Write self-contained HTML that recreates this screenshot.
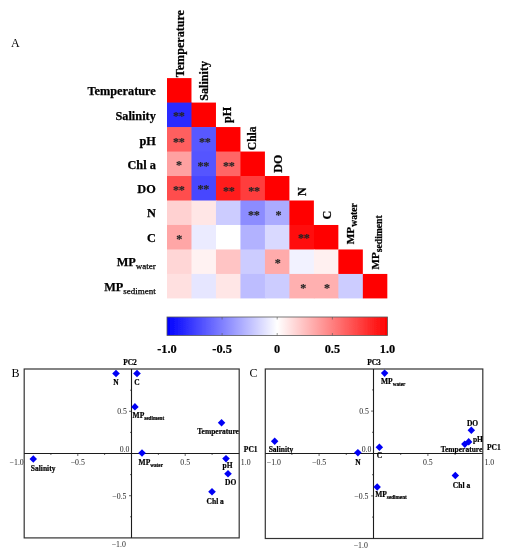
<!DOCTYPE html>
<html lang="en"><head><meta charset="utf-8"><title>Figure</title>
<style>html,body{margin:0;padding:0;background:#fff}svg{display:block}text{font-family:"Liberation Serif",serif;fill:#000}.b{font-weight:bold}.rl{font-size:12.3px;font-weight:bold;text-anchor:end;stroke:#000;stroke-width:0.25px}.cl{font-size:12.3px;font-weight:bold;stroke:#000;stroke-width:0.25px}.st{font-size:12.2px;font-weight:bold;text-anchor:middle;fill:#262626;letter-spacing:-0.4px;stroke:#262626;stroke-width:0.15px}.cb{font-size:12.3px;font-weight:bold;text-anchor:middle;stroke:#000;stroke-width:0.2px}.tk{font-size:7.8px;fill:#222}.pl{font-size:7.5px;font-weight:bold;stroke:#000;stroke-width:0.2px}.pn{font-size:20px}</style></head><body>
<svg width="506" height="550" viewBox="0 0 506 550">
<rect width="506" height="550" fill="#fff"/>
<defs><linearGradient id="g" x1="0" x2="1" y1="0" y2="0"><stop offset="0" stop-color="#0000ff"/><stop offset="0.5" stop-color="#ffffff"/><stop offset="1" stop-color="#ff0000"/></linearGradient></defs>
<filter id="bl" x="0" y="0" width="506" height="550" filterUnits="userSpaceOnUse"><feGaussianBlur stdDeviation="0.35"/></filter>
<g filter="url(#bl)">
<text x="11" y="47.3" style="font-size:12px">A</text>
<g>
<rect x="167.00" y="78.10" width="24.48" height="25.08" fill="#ff0000"/>
<rect x="167.00" y="102.58" width="25.08" height="25.08" fill="#2b2bff"/>
<rect x="191.48" y="102.58" width="24.48" height="25.08" fill="#ff0000"/>
<rect x="167.00" y="127.06" width="25.08" height="25.08" fill="#ff5e5e"/>
<rect x="191.48" y="127.06" width="25.08" height="25.08" fill="#5959ff"/>
<rect x="215.96" y="127.06" width="24.48" height="25.08" fill="#ff0000"/>
<rect x="167.00" y="151.54" width="25.08" height="25.08" fill="#ffa1a1"/>
<rect x="191.48" y="151.54" width="25.08" height="25.08" fill="#5454ff"/>
<rect x="215.96" y="151.54" width="25.08" height="25.08" fill="#ff6666"/>
<rect x="240.44" y="151.54" width="24.48" height="25.08" fill="#ff0000"/>
<rect x="167.00" y="176.02" width="25.08" height="25.08" fill="#ff4d4d"/>
<rect x="191.48" y="176.02" width="25.08" height="25.08" fill="#4747ff"/>
<rect x="215.96" y="176.02" width="25.08" height="25.08" fill="#ff1f1f"/>
<rect x="240.44" y="176.02" width="25.08" height="25.08" fill="#ff3d3d"/>
<rect x="264.92" y="176.02" width="24.48" height="25.08" fill="#ff0000"/>
<rect x="167.00" y="200.50" width="25.08" height="25.08" fill="#ffd1d1"/>
<rect x="191.48" y="200.50" width="25.08" height="25.08" fill="#ffe6e6"/>
<rect x="215.96" y="200.50" width="25.08" height="25.08" fill="#ccccff"/>
<rect x="240.44" y="200.50" width="25.08" height="25.08" fill="#8c8cff"/>
<rect x="264.92" y="200.50" width="25.08" height="25.08" fill="#ababff"/>
<rect x="289.40" y="200.50" width="24.48" height="25.08" fill="#ff0000"/>
<rect x="167.00" y="224.98" width="25.08" height="25.08" fill="#ffa6a6"/>
<rect x="191.48" y="224.98" width="25.08" height="25.08" fill="#ebebff"/>
<rect x="215.96" y="224.98" width="25.08" height="25.08" fill="#ffffff"/>
<rect x="240.44" y="224.98" width="25.08" height="25.08" fill="#b2b2ff"/>
<rect x="264.92" y="224.98" width="25.08" height="25.08" fill="#d9d9ff"/>
<rect x="289.40" y="224.98" width="25.08" height="25.08" fill="#ff0808"/>
<rect x="313.88" y="224.98" width="24.48" height="25.08" fill="#ff0000"/>
<rect x="167.00" y="249.46" width="25.08" height="25.08" fill="#ffd6d6"/>
<rect x="191.48" y="249.46" width="25.08" height="25.08" fill="#fff2f2"/>
<rect x="215.96" y="249.46" width="25.08" height="25.08" fill="#ffc4c4"/>
<rect x="240.44" y="249.46" width="25.08" height="25.08" fill="#ccccff"/>
<rect x="264.92" y="249.46" width="25.08" height="25.08" fill="#ffabab"/>
<rect x="289.40" y="249.46" width="25.08" height="25.08" fill="#f2f2ff"/>
<rect x="313.88" y="249.46" width="25.08" height="25.08" fill="#fff0f0"/>
<rect x="338.36" y="249.46" width="24.48" height="25.08" fill="#ff0000"/>
<rect x="167.00" y="273.94" width="25.08" height="24.48" fill="#ffe0e0"/>
<rect x="191.48" y="273.94" width="25.08" height="24.48" fill="#e6e6ff"/>
<rect x="215.96" y="273.94" width="25.08" height="24.48" fill="#ffe6e6"/>
<rect x="240.44" y="273.94" width="25.08" height="24.48" fill="#bdbdff"/>
<rect x="264.92" y="273.94" width="25.08" height="24.48" fill="#ccccff"/>
<rect x="289.40" y="273.94" width="25.08" height="24.48" fill="#ffb0b0"/>
<rect x="313.88" y="273.94" width="25.08" height="24.48" fill="#ffb0b0"/>
<rect x="338.36" y="273.94" width="25.08" height="24.48" fill="#ccccff"/>
<rect x="362.84" y="273.94" width="24.48" height="24.48" fill="#ff0000"/>
</g>
<text class="st" x="178.7" y="119.9">**</text>
<text class="st" x="178.8" y="146.3">**</text>
<text class="st" x="204.7" y="145.9">**</text>
<text class="st" x="178.8" y="169.0">*</text>
<text class="st" x="203.3" y="169.8">**</text>
<text class="st" x="228.8" y="170.0">**</text>
<text class="st" x="178.8" y="193.9">**</text>
<text class="st" x="203.3" y="192.7">**</text>
<text class="st" x="228.8" y="194.9">**</text>
<text class="st" x="253.9" y="194.5">**</text>
<text class="st" x="253.7" y="218.5">**</text>
<text class="st" x="278.4" y="218.5">*</text>
<text class="st" x="179.2" y="243.2">*</text>
<text class="st" x="303.7" y="241.9">**</text>
<text class="st" x="277.6" y="266.7">*</text>
<text class="st" x="303.0" y="292.0">*</text>
<text class="st" x="326.9" y="292.0">*</text>
<text class="rl" x="155.8" y="95.1">Temperature</text>
<text class="rl" x="155.8" y="119.6">Salinity</text>
<text class="rl" x="155.8" y="144.5">pH</text>
<text class="rl" x="155.8" y="168.6">Chl a</text>
<text class="rl" x="155.8" y="193.1">DO</text>
<text class="rl" x="155.8" y="216.9">N</text>
<text class="rl" x="155.8" y="242.0">C</text>
<text class="rl" x="155.8" y="266.2">MP<tspan dy="3" style="font-size:9px;font-weight:normal">water</tspan></text>
<text class="rl" x="155.8" y="290.7">MP<tspan dy="3" style="font-size:9px;font-weight:normal">sediment</tspan></text>
<text class="cl" style="font-size:12.1px" transform="translate(184.4,77.2) rotate(-90)">Temperature</text>
<text class="cl" style="font-size:12.1px" transform="translate(207.6,100.7) rotate(-90)">Salinity</text>
<text class="cl" style="font-size:12.1px" transform="translate(230.9,122.9) rotate(-90)">pH</text>
<text class="cl" style="font-size:11.6px" transform="translate(255.8,150.2) rotate(-90)">Chla</text>
<text class="cl" style="font-size:12.1px" transform="translate(281.6,172.8) rotate(-90)">DO</text>
<text class="cl" style="font-size:12.1px" transform="translate(305.6,196.0) rotate(-90)">N</text>
<text class="cl" style="font-size:12.1px" transform="translate(331.2,219.4) rotate(-90)">C</text>
<text class="cl" style="font-size:11.2px" transform="translate(353.5,244.2) rotate(-90)">MP<tspan dy="3.5" style="font-size:9.6px">water</tspan></text>
<text class="cl" style="font-size:11.2px" transform="translate(378.8,269.6) rotate(-90)">MP<tspan dy="3.5" style="font-size:9.6px">sediment</tspan></text>
<rect x="167" y="317" width="220.5" height="18.5" fill="url(#g)" stroke="#5a5a5a" stroke-width="0.8"/>
<text class="cb" x="167.0" y="353">-1.0</text>
<line x1="222.1" y1="317" x2="222.1" y2="319.5" stroke="#555" stroke-width="0.6"/>
<line x1="222.1" y1="333" x2="222.1" y2="335.5" stroke="#555" stroke-width="0.6"/>
<text class="cb" x="222.1" y="353">-0.5</text>
<line x1="277.2" y1="317" x2="277.2" y2="319.5" stroke="#555" stroke-width="0.6"/>
<line x1="277.2" y1="333" x2="277.2" y2="335.5" stroke="#555" stroke-width="0.6"/>
<text class="cb" x="277.2" y="353">0</text>
<line x1="332.4" y1="317" x2="332.4" y2="319.5" stroke="#555" stroke-width="0.6"/>
<line x1="332.4" y1="333" x2="332.4" y2="335.5" stroke="#555" stroke-width="0.6"/>
<text class="cb" x="332.4" y="353">0.5</text>
<text class="cb" x="387.5" y="353">1.0</text>
<rect x="24.2" y="369" width="215.0" height="168.89999999999998" fill="none" stroke="#333" stroke-width="1.2"/>
<line x1="24.2" y1="453.5" x2="239.2" y2="453.5" stroke="#1a1a1a" stroke-width="1.1"/>
<line x1="131.5" y1="369" x2="131.5" y2="537.9" stroke="#1a1a1a" stroke-width="1.1"/>
<line x1="50.9" y1="453.5" x2="50.9" y2="455.0" stroke="#222" stroke-width="0.7"/>
<line x1="130.0" y1="390.2" x2="131.5" y2="390.2" stroke="#222" stroke-width="0.7"/>
<line x1="77.8" y1="453.5" x2="77.8" y2="456.0" stroke="#222" stroke-width="0.7"/>
<line x1="129.0" y1="411.3" x2="131.5" y2="411.3" stroke="#222" stroke-width="0.7"/>
<line x1="104.6" y1="453.5" x2="104.6" y2="455.0" stroke="#222" stroke-width="0.7"/>
<line x1="130.0" y1="432.4" x2="131.5" y2="432.4" stroke="#222" stroke-width="0.7"/>
<line x1="158.4" y1="453.5" x2="158.4" y2="455.0" stroke="#222" stroke-width="0.7"/>
<line x1="130.0" y1="474.6" x2="131.5" y2="474.6" stroke="#222" stroke-width="0.7"/>
<line x1="185.2" y1="453.5" x2="185.2" y2="456.0" stroke="#222" stroke-width="0.7"/>
<line x1="129.0" y1="495.7" x2="131.5" y2="495.7" stroke="#222" stroke-width="0.7"/>
<line x1="212.1" y1="453.5" x2="212.1" y2="455.0" stroke="#222" stroke-width="0.7"/>
<line x1="130.0" y1="516.8" x2="131.5" y2="516.8" stroke="#222" stroke-width="0.7"/>
<text class="pn" x="11.5" y="377" style="font-size:12px">B</text>
<text class="pl" x="130.0" y="365.2" text-anchor="middle">PC2</text>
<text class="tk" x="16.7" y="465.2" text-anchor="middle">−1.0</text>
<text class="tk" x="77.8" y="465.2" text-anchor="middle">−0.5</text>
<text class="tk" x="185.2" y="465.2" text-anchor="middle">0.5</text>
<text class="tk" x="245.7" y="465.2" text-anchor="middle">1.0</text>
<text class="tk" x="126.9" y="414.3" text-anchor="end">0.5</text>
<text class="tk" x="129.4" y="451.5" text-anchor="end">0.0</text>
<text class="tk" x="126.5" y="498.9" text-anchor="end">−0.5</text>
<text class="tk" x="125.8" y="547.0" text-anchor="end">−1.0</text>
<path d="M116.0 369.8L119.8 373.5L116.0 377.2L112.2 373.5Z" fill="#0000f5"/>
<path d="M137.0 369.8L140.8 373.5L137.0 377.2L133.2 373.5Z" fill="#0000f5"/>
<path d="M134.9 403.1L138.7 406.9L134.9 410.6L131.2 406.9Z" fill="#0000f5"/>
<path d="M221.6 418.9L225.3 422.7L221.6 426.4L217.8 422.7Z" fill="#0000f5"/>
<path d="M142.0 449.2L145.8 453.0L142.0 456.8L138.2 453.0Z" fill="#0000f5"/>
<path d="M33.3 455.2L37.0 459.0L33.3 462.8L29.5 459.0Z" fill="#0000f5"/>
<path d="M226.0 454.9L229.8 458.6L226.0 462.4L222.2 458.6Z" fill="#0000f5"/>
<path d="M228.0 469.9L231.8 473.7L228.0 477.4L224.2 473.7Z" fill="#0000f5"/>
<path d="M212.0 487.9L215.8 491.7L212.0 495.4L208.2 491.7Z" fill="#0000f5"/>
<text class="pl" x="116.0" y="384.7" text-anchor="middle">N</text>
<text class="pl" x="137.0" y="384.7" text-anchor="middle">C</text>
<text class="pl" x="132.6" y="417.9" text-anchor="start">MP<tspan dy="2" style="font-size:5.2px">sediment</tspan></text>
<text class="pl" x="218.1" y="433.7" text-anchor="middle">Temperature</text>
<text class="pl" x="138.6" y="464.8" text-anchor="start">MP<tspan dy="2" style="font-size:5.2px">water</tspan></text>
<text class="pl" x="30.8" y="470.8" text-anchor="start">Salinity</text>
<text class="pl" x="227.5" y="467.8" text-anchor="middle">pH</text>
<text class="pl" x="230.6" y="484.5" text-anchor="middle">DO</text>
<text class="pl" x="215.2" y="503.7" text-anchor="middle">Chl a</text>
<text class="pl" x="243.8" y="451.8">PC1</text>
<rect x="265.3" y="369" width="217.5" height="169.5" fill="none" stroke="#333" stroke-width="1.2"/>
<line x1="265.3" y1="453.5" x2="482.8" y2="453.5" stroke="#1a1a1a" stroke-width="1.1"/>
<line x1="373.5" y1="369" x2="373.5" y2="538.5" stroke="#1a1a1a" stroke-width="1.1"/>
<line x1="291.9" y1="453.5" x2="291.9" y2="455.0" stroke="#222" stroke-width="0.7"/>
<line x1="372.0" y1="389.9" x2="373.5" y2="389.9" stroke="#222" stroke-width="0.7"/>
<line x1="319.1" y1="453.5" x2="319.1" y2="456.0" stroke="#222" stroke-width="0.7"/>
<line x1="371.0" y1="411.1" x2="373.5" y2="411.1" stroke="#222" stroke-width="0.7"/>
<line x1="346.3" y1="453.5" x2="346.3" y2="455.0" stroke="#222" stroke-width="0.7"/>
<line x1="372.0" y1="432.3" x2="373.5" y2="432.3" stroke="#222" stroke-width="0.7"/>
<line x1="400.7" y1="453.5" x2="400.7" y2="455.0" stroke="#222" stroke-width="0.7"/>
<line x1="372.0" y1="474.7" x2="373.5" y2="474.7" stroke="#222" stroke-width="0.7"/>
<line x1="427.9" y1="453.5" x2="427.9" y2="456.0" stroke="#222" stroke-width="0.7"/>
<line x1="371.0" y1="495.9" x2="373.5" y2="495.9" stroke="#222" stroke-width="0.7"/>
<line x1="455.1" y1="453.5" x2="455.1" y2="455.0" stroke="#222" stroke-width="0.7"/>
<line x1="372.0" y1="517.1" x2="373.5" y2="517.1" stroke="#222" stroke-width="0.7"/>
<text class="pn" x="249.5" y="377" style="font-size:12px">C</text>
<text class="pl" x="374.0" y="365.2" text-anchor="middle">PC3</text>
<text class="tk" x="273.9" y="465.2" text-anchor="middle">−1.0</text>
<text class="tk" x="319.1" y="465.2" text-anchor="middle">−0.5</text>
<text class="tk" x="427.9" y="465.2" text-anchor="middle">0.5</text>
<text class="tk" x="489.3" y="465.2" text-anchor="middle">1.0</text>
<text class="tk" x="368.9" y="414.1" text-anchor="end">0.5</text>
<text class="tk" x="371.4" y="451.5" text-anchor="end">0.0</text>
<text class="tk" x="368.5" y="499.1" text-anchor="end">−0.5</text>
<text class="tk" x="367.8" y="547.6" text-anchor="end">−1.0</text>
<path d="M384.6 369.4L388.4 373.1L384.6 376.9L380.9 373.1Z" fill="#0000f5"/>
<path d="M471.3 426.4L475.1 430.2L471.3 433.9L467.6 430.2Z" fill="#0000f5"/>
<path d="M468.7 438.1L472.4 441.9L468.7 445.6L464.9 441.9Z" fill="#0000f5"/>
<path d="M464.8 440.4L468.6 444.1L464.8 447.9L461.1 444.1Z" fill="#0000f5"/>
<path d="M379.4 443.6L383.1 447.3L379.4 451.1L375.6 447.3Z" fill="#0000f5"/>
<path d="M274.7 437.4L278.4 441.2L274.7 444.9L270.9 441.2Z" fill="#0000f5"/>
<path d="M357.9 448.9L361.6 452.6L357.9 456.4L354.1 452.6Z" fill="#0000f5"/>
<path d="M455.3 471.8L459.1 475.5L455.3 479.2L451.6 475.5Z" fill="#0000f5"/>
<path d="M377.2 483.2L380.9 487.0L377.2 490.8L373.4 487.0Z" fill="#0000f5"/>
<text class="pl" x="381.0" y="383.6" text-anchor="start">MP<tspan dy="2" style="font-size:5.2px">water</tspan></text>
<text class="pl" x="472.5" y="425.8" text-anchor="middle">DO</text>
<text class="pl" x="477.9" y="442.0" text-anchor="middle">pH</text>
<text class="pl" x="482.4" y="451.5" text-anchor="end">Temperature</text>
<text class="pl" x="379.4" y="457.8" text-anchor="middle">C</text>
<text class="pl" x="268.7" y="452.2" text-anchor="start">Salinity</text>
<text class="pl" x="357.9" y="464.6" text-anchor="middle">N</text>
<text class="pl" x="461.5" y="487.9" text-anchor="middle">Chl a</text>
<text class="pl" x="375.2" y="497.4" text-anchor="start">MP<tspan dy="2" style="font-size:5.2px">sediment</tspan></text>
<text class="pl" x="487" y="450.1">PC1</text>
</g>
</svg></body></html>
